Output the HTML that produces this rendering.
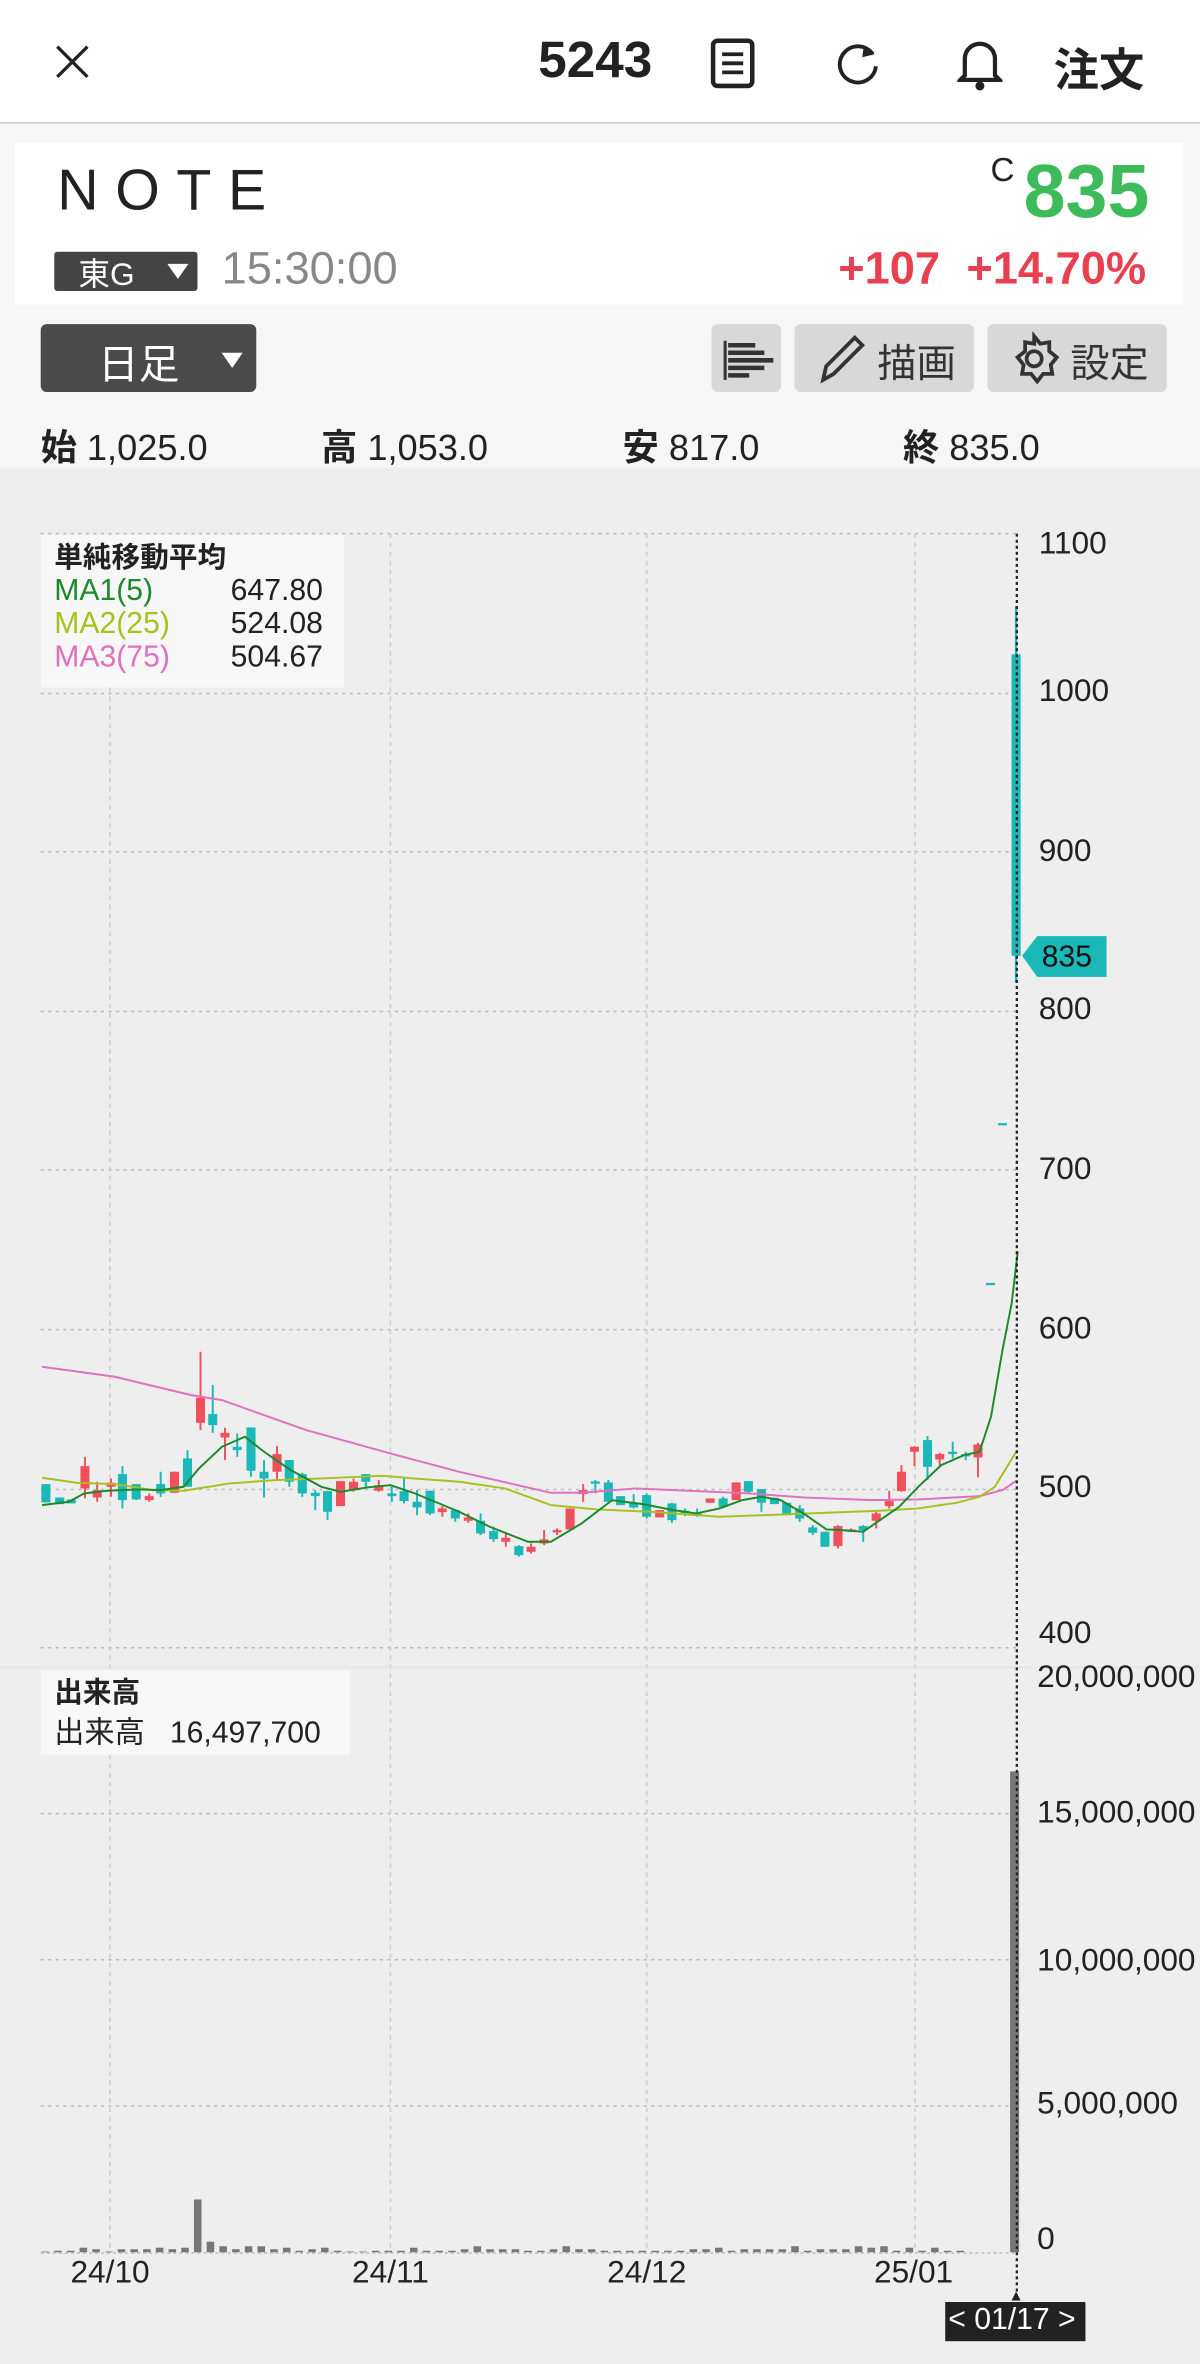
<!DOCTYPE html>
<html><head><meta charset="utf-8"><style>
html,body{margin:0;padding:0;width:1200px;height:2364px;overflow:hidden;background:#eee}
#w{position:absolute;left:0;top:0;width:796px;height:1568px;transform:scale(1.507538);transform-origin:0 0;font-family:"Liberation Sans","Noto Sans CJK JP",sans-serif;background:#eee}
.a{position:absolute;white-space:nowrap}
</style></head><body><div id="w">
<div class="a" style="left:0;top:0;width:796px;height:81px;background:#fff;border-bottom:1px solid #c8c8c8"></div>
<svg class="a" style="left:36px;top:29px" width="24" height="24"><path d="M2 2L22 22M22 2L2 22" stroke="#222" stroke-width="2.2"/></svg>
<div class="a" style="left:357px;top:21px;font-size:34px;font-weight:bold;color:#222">5243</div>
<svg class="a" style="left:471px;top:25px" width="32" height="34"><rect x="2" y="2" width="26" height="30" rx="3" fill="none" stroke="#222" stroke-width="3"/><path d="M8 11h14M8 17h14M8 23h14" stroke="#222" stroke-width="2.5"/></svg>
<svg class="a" style="left:553px;top:26px" width="32" height="32"><path d="M26 10A12 12 0 1 0 28 18" fill="none" stroke="#222" stroke-width="2.6"/><path d="M20 4l7 6-8 2z" fill="#222"/></svg>
<svg class="a" style="left:635px;top:24px" width="30" height="36"><path d="M5 26V15a10 10 0 0 1 20 0v11l3 3H2z" fill="none" stroke="#222" stroke-width="2.8"/><circle cx="15" cy="33" r="3" fill="#222"/></svg>
<div class="a" style="left:699px;top:22px;font-size:30px;font-weight:bold;color:#222">注文</div>
<div class="a" style="left:0;top:82px;width:796px;height:228px;background:#f6f6f6"></div>
<div class="a" style="left:10px;top:95px;width:775px;height:107px;background:#fff"></div>
<div class="a" style="left:38px;top:106px;font-size:38px;letter-spacing:11px;color:#222">NOTE</div>
<div class="a" style="left:657px;top:100px;font-size:22px;color:#222">C</div>
<div class="a" style="left:679px;top:98px;font-size:50px;color:#3dbb5a;font-weight:bold">835</div>
<div class="a" style="left:36px;top:167px;width:95px;height:26px;background:#444;border-radius:2px"></div>
<div class="a" style="left:52px;top:166px;font-size:21px;color:#fff">東G</div>
<div class="a" style="left:111px;top:175px;border-left:7px solid transparent;border-right:7px solid transparent;border-top:10px solid #fff;width:0"></div>
<div class="a" style="left:147px;top:162px;font-size:30px;color:#888">15:30:00</div>
<div class="a" style="left:556px;top:162px;font-size:30px;color:#e8404f;font-weight:bold">+107</div>
<div class="a" style="left:641px;top:162px;font-size:30px;color:#e8404f;font-weight:bold">+14.70%</div>
<div class="a" style="left:27px;top:215px;width:143px;height:45px;background:#4a4a4a;border-radius:4px"></div>
<div class="a" style="left:65px;top:220px;font-size:27px;color:#fff">日足</div>
<div class="a" style="left:147px;top:234px;border-left:7px solid transparent;border-right:7px solid transparent;border-top:10px solid #fff;width:0"></div>
<div class="a" style="left:472px;top:215px;width:46px;height:45px;background:#d8d8d8;border-radius:4px"></div>
<svg class="a" style="left:478px;top:224px" width="36" height="30"><path d="M3 2v26" stroke="#333" stroke-width="2"/><path d="M5 5h18M5 10h24M5 15h30M5 20h24M5 25h14" stroke="#333" stroke-width="3"/></svg>
<div class="a" style="left:527px;top:215px;width:119px;height:45px;background:#d8d8d8;border-radius:4px"></div>
<svg class="a" style="left:540px;top:220px" width="36" height="36"><path d="M6 32l2-9L27 4l5 5-19 19z" fill="none" stroke="#333" stroke-width="2.5"/></svg>
<div class="a" style="left:582px;top:221px;font-size:26px;color:#333">描画</div>
<div class="a" style="left:655px;top:215px;width:119px;height:45px;background:#d8d8d8;border-radius:4px"></div>
<svg class="a" style="left:668px;top:220px" width="36" height="36"><path d="M18 3l4 5 6-1 0 6 5 4-4 5 1 6-6 0-4 5-4-5-6 0 1-6-4-5 5-4 0-6 6 1z" fill="none" stroke="#333" stroke-width="2.5"/><circle cx="18" cy="18" r="5" fill="none" stroke="#333" stroke-width="2.5"/></svg>
<div class="a" style="left:710px;top:221px;font-size:26px;color:#333">設定</div>
<div class="a" style="left:27px;top:277px;font-size:24px;color:#222"><b>始</b> 1,025.0</div>
<div class="a" style="left:213px;top:277px;font-size:24px;color:#222"><b>高</b> 1,053.0</div>
<div class="a" style="left:413px;top:277px;font-size:24px;color:#222"><b>安</b> 817.0</div>
<div class="a" style="left:599px;top:277px;font-size:24px;color:#222"><b>終</b> 835.0</div>
<svg id="c" class="a" style="left:0;top:0" width="796" height="1568"></svg>
<div class="a" style="left:27px;top:355px;width:201px;height:101px;background:#f7f7f7"></div>
<div class="a" style="left:36px;top:355px;font-size:19px;color:#222;font-weight:bold">単純移動平均</div>
<div class="a" style="left:36px;top:381px;font-size:20px;color:#1a8a2a;line-height:22px">MA1(5)<br><span style="color:#a8c020">MA2(25)</span><br><span style="color:#e070c0">MA3(75)</span></div>
<div class="a" style="left:153px;top:381px;font-size:20px;color:#222;line-height:22px">647.80<br>524.08<br>504.67</div>
<div class="a" style="left:27px;top:1108px;width:205px;height:56px;background:#f7f7f7"></div>
<div class="a" style="left:36px;top:1108px;font-size:19px;color:#222;font-weight:bold">出来高</div>
<div class="a" style="left:36px;top:1133px;font-size:20px;color:#222">出来高 &nbsp; 16,497,700</div>
<div class="a" style="left:627px;top:1527px;width:93px;height:26px;background:#222"></div>
<div class="a" style="left:629px;top:1528px;font-size:20px;color:#fff">&lt; 01/17 &gt;</div>
</div>
<script>
var s=document.getElementById('c'),h='';
function Y(d){return 862.4+d/4.5225}
function X(d){return d/1.97}
[354,460,565,671,776,882,988,1093].forEach(function(y){h+='<line x1="27" x2="674" y1="'+y+'" y2="'+y+'" stroke="#bbb" stroke-dasharray="2,3"/>';});
[1203,1300,1397].forEach(function(y){h+='<line x1="27" x2="674" y1="'+y+'" y2="'+y+'" stroke="#bbb" stroke-dasharray="2,3"/>';});
[73,259,429,607].forEach(function(x){h+='<line x1="'+x+'" x2="'+x+'" y1="354" y2="1494" stroke="#ccc" stroke-dasharray="3,3"/>';});
h+='<line x1="27" x2="674" y1="1494.5" y2="1494.5" stroke="#bbb" stroke-dasharray="2,2"/>';
h+='<line x1="0" x2="796" y1="1106" y2="1106" stroke="#e4e4e4"/>';
var lab=[[1100,360],[1000,458],[900,564],[800,669],[700,775],[600,881],[500,986],[400,1083]];
lab.forEach(function(l){h+='<text x="689" y="'+(l[1]+7)+'" font-size="21" fill="#222">'+l[0]+'</text>';});
[['20,000,000',1112],['15,000,000',1202],['10,000,000',1300],['5,000,000',1395],['0',1485]].forEach(function(l){h+='<text x="688" y="'+(l[1]+7)+'" font-size="21" fill="#222">'+l[0]+'</text>';});
[['24/10',73],['24/11',259],['24/12',429],['25/01',606]].forEach(function(l){h+='<text x="'+l[1]+'" y="1514" font-size="21" fill="#222" text-anchor="middle">'+l[0]+'</text>';});
var vol=[0.5,1,1,3,2,0.5,2,2,2,3,2,3,35,7,4,2,4,4,2,3,1,2,3,1,0.5,0.5,1,1,1,3,1,1,1,2,4,2,2,2,1,1,2,4,2,2,1,1,1,1,1,1,1,2,2,3,1,2,2,2,2,4,1,2,2,2,4,3,4,1,3,1,3,1,1];
for(var i=0;i<vol.length;i++){var x=30+i*8.43;h+='<rect x="'+(x-2.5)+'" y="'+(1494-vol[i])+'" width="5" height="'+vol[i]+'" fill="#777"/>';}
h+='<rect x="670" y="1175" width="6" height="319" fill="#777"/>';
var C=[[60,0,552,607,552,607],[78,0,592,612,592,612],[93,0,598,610,598,610],[111,1,498,565,470,595],[127,1,570,592,545,605],[145,1,548,560,535,590],[160,0,522,600,498,625],[178,0,552,598,552,600],[195,1,588,600,580,605],[210,0,552,580,515,590],[228,1,515,578,515,578],[245,0,475,560,450,560],[262,1,293,368,155,390],[278,0,342,375,255,398],[294,1,398,412,383,480],[310,0,440,450,400,470],[328,0,382,512,382,530],[345,0,515,535,480,592],[362,1,462,515,438,540],[378,0,480,545,480,560],[395,0,522,580,518,590],[412,0,578,588,570,630],[428,0,573,635,573,660],[445,1,543,618,543,618],[462,1,545,570,535,575],[478,0,522,545,522,560],[495,1,555,572,540,575],[512,0,580,588,560,605],[528,0,573,603,535,610],[545,0,605,622,570,645],[562,0,572,640,572,645],[578,1,625,636,618,650],[595,0,630,655,630,665],[612,1,652,662,640,668],[628,0,662,700,640,705],[645,0,693,717,680,725],[661,1,713,725,700,740],[678,0,738,765,735,770],[694,1,740,755,730,760],[711,1,718,730,690,735],[728,1,690,695,685,705],[745,1,625,688,625,688],[762,1,570,582,552,605],[778,0,544,548,540,580],[795,0,547,605,540,605],[811,0,588,615,588,615],[828,0,610,622,582,625],[845,0,585,650,580,655],[862,1,630,652,630,652],[878,0,610,660,608,668],[895,0,632,638,625,648],[911,0,640,645,625,650],[928,1,595,608,595,608],[945,0,595,620,590,625],[962,1,547,600,547,600],[978,0,543,575,543,578],[995,0,567,608,567,635],[1012,0,593,612,593,612],[1028,0,608,645,608,645],[1045,0,625,655,615,665],[1062,0,682,698,675,705],[1078,0,695,740,695,740],[1095,1,678,738,675,745],[1112,1,688,695,685,695],[1128,0,678,690,675,725],[1145,1,640,662,635,685],[1162,1,603,618,572,625],[1178,1,515,573,495,575],[1195,1,440,455,438,498],[1212,0,420,500,408,540],[1228,1,462,478,458,500],[1245,0,455,460,425,475],[1262,0,462,465,455,480],[1278,1,433,472,428,532]];
C.forEach(function(c){var x=X(c[0]),col=c[1]?'#f0505a':'#1bb8b8';h+='<line x1="'+x+'" x2="'+x+'" y1="'+Y(c[4])+'" y2="'+Y(c[5])+'" stroke="'+col+'" stroke-width="1.3"/>';var t=Y(c[2]),b=Math.max(Y(c[3]),t+1.5);h+='<rect x="'+(x-3)+'" y="'+t+'" width="6" height="'+(b-t)+'" fill="'+col+'"/>';});
h+='<rect x="654" y="851" width="6" height="1.5" fill="#1bb8b8"/><rect x="662" y="745" width="6" height="1.5" fill="#1bb8b8"/>';
h+='<line x1="674" x2="674" y1="402" y2="652" stroke="#1bb8b8" stroke-width="1.5"/><rect x="671" y="434" width="6" height="200" fill="#1bb8b8"/>';
function P(a,col,w){var p=[];for(var i=0;i<a.length;i+=2)p.push(X(a[i])+','+Y(a[i+1]));h+='<polyline points="'+p.join(' ')+'" fill="none" stroke="'+col+'" stroke-width="'+w+'"/>';}
P([55,200,150,230,250,285,290,300,400,390,510,460,600,515,720,578,760,578,830,565,900,572,980,580,1050,592,1140,600,1200,598,1280,588,1310,570,1328,542],'#e070c0',1.3);
P([55,533,100,548,150,552,200,570,240,572,300,550,360,540,420,535,500,527,540,535,600,545,660,565,720,615,780,628,850,635,940,650,1000,645,1080,638,1150,632,1200,625,1250,608,1280,590,1300,560,1328,455],'#a8c020',1.3);
P([55,615,90,605,110,580,140,572,180,568,210,570,240,560,260,505,290,440,320,410,345,455,380,510,420,560,445,575,480,562,510,555,540,578,600,635,640,680,690,725,720,725,760,670,800,600,840,612,880,630,910,640,940,625,970,600,995,590,1020,600,1050,640,1080,688,1100,690,1128,695,1150,660,1175,620,1200,560,1230,495,1260,465,1280,455,1295,350,1310,150,1322,10,1330,-146],'#1a8a2a',1.3);
h+='<line x1="674.5" x2="674.5" y1="354" y2="1525" stroke="#222" stroke-width="1.5" stroke-dasharray="2,2"/>';
h+='<path d="M674 1520l3 6h-6z" fill="#222"/>';
h+='<path d="M678 634l10-13h46v27h-46z" fill="#1bb8b8"/><text x="691" y="641" font-size="20" fill="#111">835</text>';
s.innerHTML=h;
</script>
</body></html>
